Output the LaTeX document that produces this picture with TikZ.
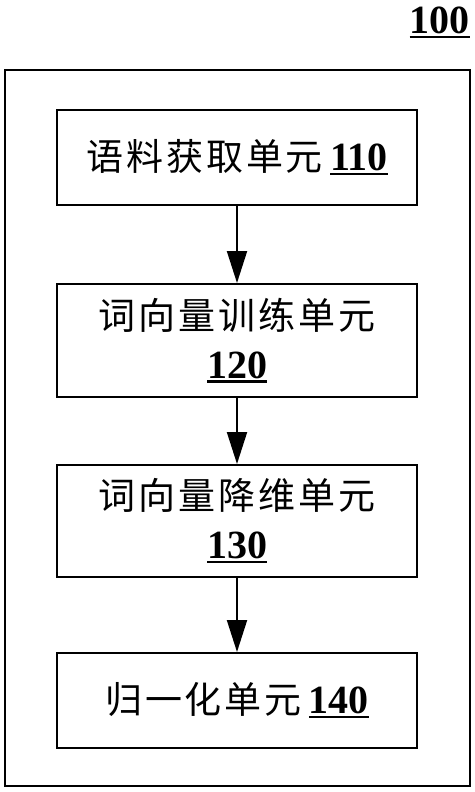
\documentclass[tikz,border=0pt]{standalone}
\usepackage{fontspec}
\setmainfont{Liberation Serif}
\newfontfamily\cjk{Noto Sans CJK SC}[LetterSpace=8]
\usetikzlibrary{arrows.meta}
\newcommand\unum[1]{\setbox0\hbox{\bfseries #1}\rlap{\rule[-4.5pt]{\wd0}{2.6pt}}\box0}
\tikzset{
  unitbox/.style={draw, line width=2pt, minimum width=360pt, align=center, inner sep=0pt,
    font=\fontsize{40pt}{49pt}\selectfont},
  flow/.style={line width=2pt, -{Triangle[length=32pt,width=20pt]}}
}
\begin{document}
\begin{tikzpicture}[x=1pt,y=-1pt]
\useasboundingbox (0,0) rectangle (474,792);
\node[draw, line width=2pt, minimum width=465pt, minimum height=716pt, inner sep=0pt] (outer) at (237.5,428) {};
\node[anchor=base, inner sep=0pt, font=\fontsize{40pt}{40pt}\selectfont] (lbl) at (439.5,34) {\unum{100}};
\node[unitbox, minimum height=95pt] (b1) at (237,157.5) {{\fontsize{37pt}{37pt}\cjk 语料获取单元}\hspace{7pt}\unum{110}};
\node[unitbox, minimum height=113pt] (b2) at (237,340.5) {{\fontsize{37pt}{37pt}\cjk 词向量训练单元}\\\unum{120}};
\node[unitbox, minimum height=112pt] (b3) at (237,521) {{\fontsize{37pt}{37pt}\cjk 词向量降维单元}\\\unum{130}};
\node[unitbox, minimum height=95pt] (b4) at (237,700.5) {{\fontsize{37pt}{37pt}\cjk 归一化单元}\hspace{7pt}\unum{140}};
\draw[flow] (b1) -- (b2);
\draw[flow] (b2) -- (b3);
\draw[flow] (b3) -- (b4);
\end{tikzpicture}
\end{document}
